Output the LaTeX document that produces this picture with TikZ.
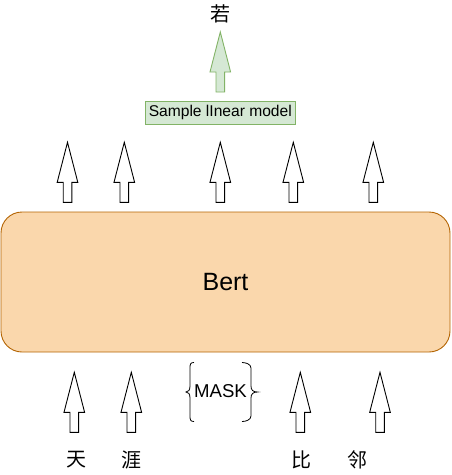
\documentclass[tikz,border=0pt]{standalone}
\usepackage{fontspec}
\setmainfont{Liberation Sans}
\newfontfamily\cjk{Noto Sans CJK SC}
\definecolor{bertfill}{HTML}{FAD7AC}
\definecolor{bertline}{HTML}{B46504}
\definecolor{greenfill}{HTML}{D5E8D4}
\definecolor{greenline}{HTML}{82B366}
\newcommand\blkarrow[4]{%
  \draw[#4] (#1,#2) -- (#1+10.3,#2+40) -- (#1+4.3,#2+40) -- (#1+4.3,#3)
    -- (#1-4.3,#3) -- (#1-4.3,#2+40) -- (#1-10.3,#2+40) -- cycle;}
\begin{document}
\begin{tikzpicture}[x=1pt,y=-1pt,
  bertbox/.style={draw=bertline, fill=bertfill, rounded corners=21pt, line width=0.9pt,
    minimum width=449pt, minimum height=140pt, font=\fontsize{25}{30}\selectfont},
  greenbox/.style={draw=greenline, fill=greenfill, line width=0.9pt, inner sep=0pt,
    minimum width=150.5pt, minimum height=22.3pt, font=\fontsize{15.6}{18}\selectfont},
  whitearrow/.style={draw=black, fill=white, line width=0.9pt},
  greenarrow/.style={draw=greenline, fill=greenfill, line width=0.9pt},
  cjklabel/.style={font=\cjk\fontsize{20}{24}\selectfont, inner sep=0pt},
  masklabel/.style={font=\fontsize{18.6}{22}\selectfont, inner sep=0pt},
  bracestyle/.style={draw=black, line width=0.8pt}
]
\useasboundingbox (0,0) rectangle (451,475);
% Bert box
\node[bertbox] (bert) at (225.5,282) {Bert};
% Sample linear model box
\node[greenbox] (slm) at (220.3,112.8) {Sample lInear model};
% output arrow and label
\blkarrow{220.3}{32}{92}{greenarrow}
\node[cjklabel] (ruo) at (220,14) {若};
% arrows above Bert
\blkarrow{67.5}{142.3}{202.3}{whitearrow}
\blkarrow{124.3}{142.3}{202.3}{whitearrow}
\blkarrow{220.3}{142.3}{202.3}{whitearrow}
\blkarrow{293.3}{142.3}{202.3}{whitearrow}
\blkarrow{373.3}{142.3}{202.3}{whitearrow}
% arrows below Bert
\blkarrow{74.3}{372.3}{432.3}{whitearrow}
\blkarrow{131.3}{372.3}{432.3}{whitearrow}
\blkarrow{300.3}{372.3}{432.3}{whitearrow}
\blkarrow{380}{372.3}{432.3}{whitearrow}
% MASK with braces
\node[masklabel] (mask) at (220.5,391.5) {MASK};
\draw[bracestyle] (194,362.5) .. controls (190.5,362.5) and (190,364) .. (190,368)
  -- (190,386) .. controls (190,390) and (188.5,392) .. (186,392)
  .. controls (188.5,392) and (190,394) .. (190,398)
  -- (190,416) .. controls (190,420) and (190.5,421.5) .. (194,421.5);
\draw[bracestyle] (242,362.5) .. controls (245.5,362.5) and (251,364) .. (251,368)
  -- (251,386) .. controls (251,390) and (253,392) .. (257.5,392)
  .. controls (253,392) and (251,394) .. (251,398)
  -- (251,416) .. controls (251,420) and (245.5,421.5) .. (242,421.5);
% input tokens
\node[cjklabel] (tian) at (76.7,460) {天};
\node[cjklabel] (ya) at (131.7,460) {涯};
\node[cjklabel] (bi) at (301.7,460) {比};
\node[cjklabel] (lin) at (357.3,460) {邻};
\end{tikzpicture}
\end{document}
